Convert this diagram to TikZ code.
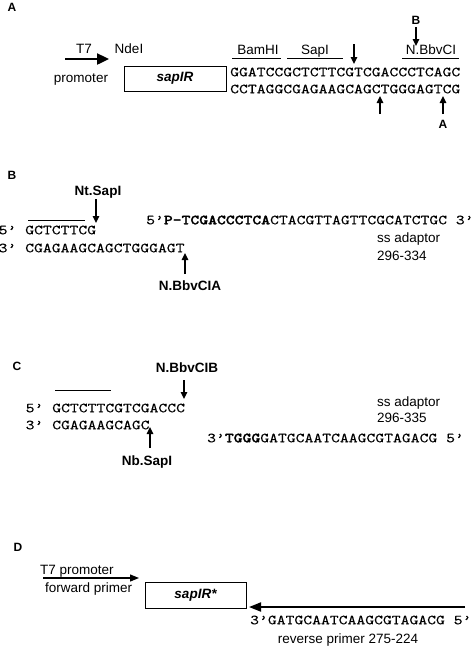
\documentclass[tikz,border=0pt]{standalone}
\usepackage{fontspec}
\setsansfont{Liberation Sans}
\newfontfamily\seqfont[FakeStretch=1.204,UprightFeatures={FakeBold=0.15},BoldFont=lmmonolt10-bold.otf,BoldFeatures={FakeBold=1.6}]{lmmono10-regular.otf}
\usetikzlibrary{arrows.meta}
\tikzset{
  lab/.style={font=\sffamily\fontsize{13.5}{16}\selectfont, inner sep=0pt, anchor=base},
  labw/.style={lab, anchor=base west},
  blab/.style={font=\sffamily\bfseries\fontsize{13.5}{16}\selectfont, inner sep=0pt, anchor=base},
  plet/.style={font=\sffamily\bfseries\fontsize{12}{14}\selectfont, inner sep=0pt, anchor=base},
  seq/.style={font=\seqfont\fontsize{14}{16}\selectfont, inner sep=0pt, anchor=base west},
  arr/.style={line width=1.3pt, -{Triangle[length=7pt,width=6.5pt]}},
  bigarr/.style={line width=2.4pt, -{Triangle[length=12pt,width=11pt]}},
  ovl/.style={line width=0.9pt},
  gene/.style={draw, line width=0.9pt, inner sep=0pt, font=\sffamily\bfseries\itshape\fontsize{13.5}{16}\selectfont},
}
\begin{document}
\begin{tikzpicture}[x=1pt,y=-1pt]
\useasboundingbox (0,0) rectangle (474,649);
\fill[white] (0,0) rectangle (474,649);

% ---------------- Panel A ----------------
\node[plet] (pA) at (12,11) {A};
\node[lab] (t7) at (84,53) {T7};
\node[lab] (ndeI) at (129,53) {NdeI};
\coordinate (t7s) at (65,59);
\coordinate (t7e) at (109,59);
\draw[bigarr] (t7s) -- (t7e);
\node[lab] (prom) at (81,82) {promoter};
\node[gene, minimum width=102pt, minimum height=25pt] (geneA) at (175,78.5) {sapIR};
\node[seq] (topA) at (230,76.3) {GGATCCGCTCTTCGTCGACCCTCAGC};
\node[seq] (botA) at (230,93.3) {CCTAGGCGAGAAGCAGCTGGGAGTCG};
\node[lab] (bam) at (258,54) {BamHI};
\node[lab] (sapA) at (315,54) {SapI};
\node[lab] (bbv) at (431,54) {N.BbvCI};
\coordinate (o1s) at (232,58); \coordinate (o1e) at (281,58);
\coordinate (o2s) at (287,58); \coordinate (o2e) at (343,58);
\coordinate (o3s) at (402,58); \coordinate (o3e) at (459,58);
\draw[ovl] (o1s) -- (o1e);
\draw[ovl] (o2s) -- (o2e);
\draw[ovl] (o3s) -- (o3e);
\coordinate (sa1) at (354,44); \coordinate (sa2) at (354,64);
\draw[arr] (sa1) -- (sa2);
\node[plet] (lblB) at (416,24) {B};
\coordinate (b1) at (416,27); \coordinate (b2) at (416,46);
\draw[arr] (b1) -- (b2);
\coordinate (u1s) at (380,114); \coordinate (u1e) at (380,96);
\draw[arr] (u1s) -- (u1e);
\coordinate (u2s) at (443,114); \coordinate (u2e) at (443,96);
\draw[arr] (u2s) -- (u2e);
\node[plet] (lblA) at (443,128) {A};

% ---------------- Panel B ----------------
\node[plet] (pB) at (12,179) {B};
\node[blab] (ntsap) at (98,195) {Nt.SapI};
\coordinate (nt1) at (96,199); \coordinate (nt2) at (96,223);
\draw[arr] (nt1) -- (nt2);
\coordinate (ob1) at (28,220); \coordinate (ob2) at (85,220);
\draw[line width=0.6pt] (ob1) -- (ob2);
\node[seq] (b5) at (-1.5,234.3) {5’ GCTCTTCG};
\node[seq] (b3) at (-1.5,252.3) {3’ CGAGAAGCAGCTGGGAGT};
\coordinate (nb1) at (185,274); \coordinate (nb2) at (185,253);
\draw[arr] (nb1) -- (nb2);
\node[blab] (bbvA) at (190,290) {N.BbvCIA};
\node[seq] (adB) at (146,224.3) {5’\textbf{P-TCGACCCTCA}CTACGTTAGTTCGCATCTGC 3’};
\node[labw] (ssB) at (377,242) {ss adaptor};
\node[labw] (numB) at (377,260) {296-334};

% ---------------- Panel C ----------------
\node[plet] (pC) at (17,370) {C};
\node[blab] (bbvB) at (187,372) {N.BbvCIB};
\coordinate (c1) at (184,380); \coordinate (c2) at (184,399);
\draw[arr] (c1) -- (c2);
\coordinate (oc1) at (55,390); \coordinate (oc2) at (111,390);
\draw[line width=0.6pt] (oc1) -- (oc2);
\node[seq] (c5) at (25.5,412.3) {5’ GCTCTTCGTCGACCC};
\node[seq] (c3) at (25.5,429.3) {3’ CGAGAAGCAGC};
\coordinate (cn1) at (150,448); \coordinate (cn2) at (150,427);
\draw[arr] (cn1) -- (cn2);
\node[blab] (nbsap) at (147,465) {Nb.SapI};
\node[labw] (ssC) at (377,406) {ss adaptor};
\node[labw] (numC) at (377,422) {296-335};
\node[seq] (adC) at (207,442.3) {3’\textbf{TGGG}GATGCAATCAAGCGTAGACG 5’};

% ---------------- Panel D ----------------
\node[plet] (pD) at (18,551) {D};
\node[labw] (t7p) at (40,574) {T7 promoter};
\coordinate (f1) at (43,578); \coordinate (f2) at (139,578);
\draw[line width=1.2pt, -{Triangle[length=9pt,width=7pt]}] (f1) -- (f2);
\node[labw] (fwd) at (45,592) {forward primer};
\node[gene, minimum width=101pt, minimum height=26pt] (geneD) at (195.5,595) {sapIR*};
\coordinate (r1) at (465,607); \coordinate (r2) at (249,607);
\draw[line width=1.8pt, -{Triangle[length=12pt,width=9pt]}] (r1) -- (r2);
\node[seq] (revseq) at (250,624.3) {3’GATGCAATCAAGCGTAGACG 5’};
\node[lab] (rev) at (348,643) {reverse primer 275-224};
\end{tikzpicture}
\end{document}
